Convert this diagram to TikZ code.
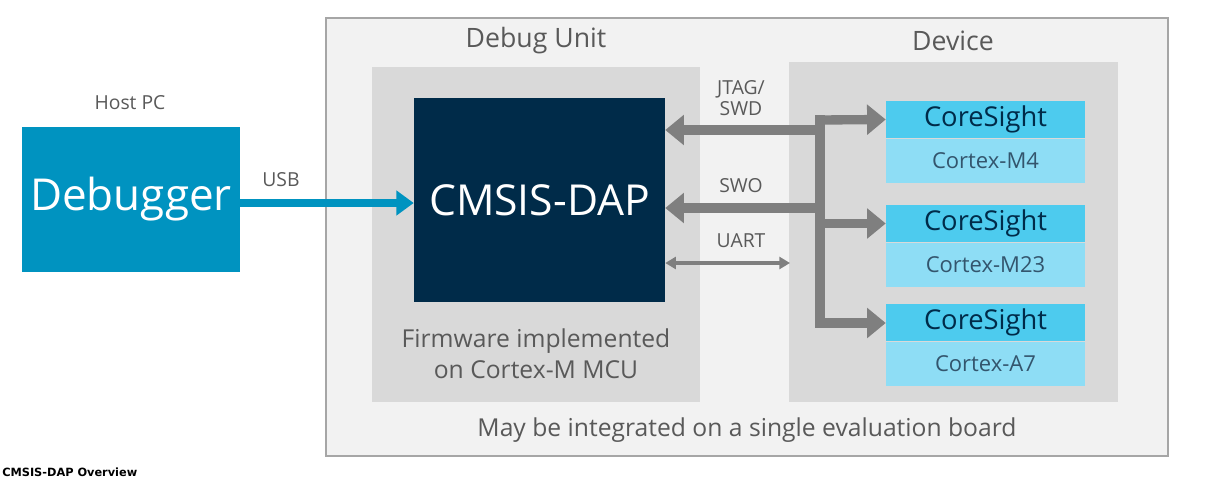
\documentclass[tikz,border=0pt]{standalone}
\usepackage{fontspec}
\setmainfont{Open Sans}
\newfontfamily\capfont{DejaVu Sans}
\usetikzlibrary{arrows.meta,positioning}
\definecolor{frameg}{HTML}{A6A6A6}
\definecolor{panel}{HTML}{F2F2F2}
\definecolor{inner}{HTML}{D9D9D9}
\definecolor{navy}{HTML}{002B49}
\definecolor{dblue}{HTML}{0093C0}
\definecolor{csblue}{HTML}{4DCBEE}
\definecolor{cxblue}{HTML}{8EDDF5}
\definecolor{txtg}{HTML}{595959}
\definecolor{arrg}{HTML}{7F7F7F}
\tikzset{
 px/.style={x=0.75pt,y=-0.75pt},
 box/.style={draw=none,inner sep=0pt},
 cs/.style={box,fill=csblue,minimum width=149.25pt,minimum height=27.75pt,font=\fontsize{20.5}{22}\selectfont,text=navy},
 cx/.style={box,fill=cxblue,minimum width=149.25pt,minimum height=33pt,font=\fontsize{16.5}{18}\selectfont,text=navy!80},
 lbl/.style={font=\fontsize{14.5}{16}\selectfont,text=txtg},
 fat/.style={arrg,line width=7pt,-{Triangle[length=14pt,width=22pt]}},
}
\begin{document}
\begin{tikzpicture}[px]
\useasboundingbox (0,0) rectangle (1211,486);
% outer board
\draw[frameg,line width=1.5pt,fill=panel] (326,18) rectangle (1168,456);
\fill[inner] (372,67) rectangle (700,402);
\fill[inner] (789,62) rectangle (1118,402);
\node[font=\fontsize{20}{22}\selectfont,text=txtg] (unit) at (536,41) {Debug Unit};
\node[font=\fontsize{20}{22}\selectfont,text=txtg] (dev) at (953,41) {Device};
\node[font=\fontsize{18.5}{20}\selectfont,text=txtg] (board) at (747,430) {May be integrated on a single evaluation board};
% host
\node[lbl] (host) at (130,103) {Host PC};
\node[box,fill=dblue,minimum width=163.5pt,minimum height=108.75pt,text=white,font=\fontsize{33}{34}\selectfont] (dbg) at (131,199.5) {Debugger};
% probe
\node[box,fill=navy,minimum width=188.25pt,minimum height=153pt,text=white,font=\fontsize{32}{34}\selectfont] (dap) at (539.5,200) {CMSIS-DAP};
\node[font=\fontsize{18.5}{23}\selectfont,text=txtg,align=center] (fw) at (536,354) {Firmware implemented\\on Cortex-M MCU};
\draw[dblue,line width=6pt,-{Triangle[length=13pt,width=18pt]}] (dbg.east|-0,203) -- (dap.west|-0,203);
\node[lbl] (usb) at (281,180) {USB};
% cores
\node[cs] (cs1) at (985.5,119.5) {CoreSight};
\node[cx,below=0pt of cs1] (m4) {Cortex-M4};
\node[cs] (cs2) at (985.5,223.5) {CoreSight};
\node[cx,below=0pt of cs2] (m23) {Cortex-M23};
\node[cs] (cs3) at (985.5,322.5) {CoreSight};
\node[cx,below=0pt of cs3] (a7) {Cortex-A7};
% bus
\coordinate (top) at (820,120);
\coordinate (bot) at (820,323);
\draw[arrg,line width=7pt,line cap=rect] (top) -- (bot);
\draw[fat] (top) -- (cs1.west);
\draw[fat] (820,223.5) -- (cs2.west);
\draw[fat] (bot) -- (cs3.west|-bot);
\draw[fat] (820,130) -- (dap.east|-0,130);
\draw[fat] (820,208) -- (dap.east|-0,208);
\coordinate (uart) at (790,263);
\draw[arrg,line width=2.5pt,{Triangle[length=8pt,width=9pt]}-{Triangle[length=8pt,width=9pt]}] (dap.east|-uart) -- (uart);
\node[lbl] (jtag) at (741,101) {\begin{tabular}{@{}c@{}}JTAG/\\[0pt]SWD\end{tabular}};
\node[lbl] (swo) at (741,186) {SWO};
\node[lbl] (ua) at (741,241) {UART};
% caption
\node[anchor=west,font=\capfont\fontsize{8.5}{9}\selectfont\bfseries,inner sep=0pt] (cap) at (2,472) {CMSIS-DAP Overview};
\end{tikzpicture}
\end{document}
